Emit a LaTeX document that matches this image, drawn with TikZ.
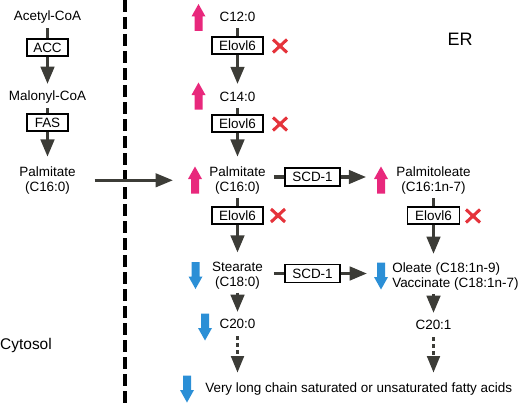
\documentclass[tikz,border=0pt]{standalone}
\usepackage{fontspec}
\setmainfont{Liberation Sans}
\usetikzlibrary{arrows.meta}
\definecolor{darkarr}{HTML}{3C3C37}
\definecolor{pinkc}{HTML}{E8287C}
\definecolor{bluec}{HTML}{2B8FD6}
\definecolor{redc}{HTML}{E5333B}
\tikzset{
  txt/.style={font=\fontsize{10.1}{11.25}\selectfont, inner xsep=2pt, inner ysep=3pt, text height=7.5pt, text depth=2.2pt},
  txtii/.style={font=\fontsize{10.1}{11.25}\selectfont, inner xsep=2pt, inner ysep=2.6pt, align=center},
  box/.style={draw=black, line width=0.9pt, fill=white, inner sep=0pt, minimum height=12.75pt, font=\fontsize{10.1}{12}\selectfont},
  conn/.style={draw=darkarr, line width=2.6pt},
  arr/.style={draw=darkarr, line width=2.6pt, -{Triangle[width=10pt,length=13pt]}},
  dasharr/.style={draw=darkarr, line width=2.2pt, dash pattern=on 3pt off 2.2pt, -{Triangle[width=9.5pt,length=12.5pt]}},
  divider/.style={draw=black, line width=3pt, dash pattern=on 9pt off 3.75pt},
  uparr/.pic={\fill[pinkc] (0,-13.5) -- (7,-1) -- (4,-1) -- (4,13.5) -- (-4,13.5) -- (-4,-1) -- (-7,-1) -- cycle;},
  dnarr/.pic={\fill[bluec] (0,13.5) -- (7,1) -- (4,1) -- (4,-13.5) -- (-4,-13.5) -- (-4,1) -- (-7,1) -- cycle;},
  xmark/.pic={\draw[redc, line width=2.3pt] (-7,-6.5) -- (7,6.5) (-7,6.5) -- (7,-6.5);}
}
\begin{document}
\begin{tikzpicture}[x=0.75pt,y=-0.75pt]
\useasboundingbox (0,0) rectangle (520,403);
% divider
\coordinate (dtop) at (125,0);
\coordinate (dbot) at (125,403);
\draw[divider] (dtop) -- (dbot);
% region labels
\node[font=\fontsize{13.5}{14}\selectfont, inner sep=0pt] (er) at (460,39.5) {ER};
\node[font=\fontsize{11.6}{13}\selectfont, inner sep=0pt] (cyto) at (26,345) {Cytosol};
% left column
\node[txt] (acetyl) at (47.5,17.4) {Acetyl-CoA};
\node[box, minimum width=41*0.75pt] (acc) at (47.5,47.5) {ACC};
\node[txt] (malonyl) at (47.5,97.4) {Malonyl-CoA};
\node[box, minimum width=41*0.75pt] (fas) at (47.5,122.5) {FAS};
\node[txtii] (palm0) at (47.5,180.3) {Palmitate\\(C16:0)};
% middle column
\node[txt] (c12) at (237.5,17.5) {C12:0};
\node[box, minimum width=51*0.75pt] (e1) at (237.5,45.5) {Elovl6};
\node[txt] (c14) at (237.5,97.5) {C14:0};
\node[box, minimum width=51*0.75pt] (e2) at (237.5,123.5) {Elovl6};
\node[txtii] (palm) at (237.5,180.3) {Palmitate\\(C16:0)};
\node[box, minimum width=51*0.75pt] (e3) at (237.5,215.5) {Elovl6};
\node[txtii] (stear) at (237.5,275.3) {Stearate\\(C18:0)};
\node[txt] (c200) at (237.5,325.4) {C20:0};
% SCD boxes
\node[box, minimum width=55*0.75pt, minimum height=13.5pt] (scd1) at (312.5,177) {SCD-1};
\node[box, minimum width=55*0.75pt, minimum height=13.5pt] (scd2) at (312.5,273.5) {SCD-1};
% right column
\node[txtii] (palmo) at (433.5,180.8) {Palmitoleate\\(C16:1n-7)};
\node[box, minimum width=52*0.75pt] (e4) at (433.5,215.5) {Elovl6};
\node[txtii, align=left, inner xsep=0pt, anchor=west] (oleate) at (392,276.8) {Oleate (C18:1n-9)\\Vaccinate (C18:1n-7)};
\node[txt] (c201) at (433.5,326.4) {C20:1};
\node[txt, anchor=west, inner xsep=0pt] (vlc) at (205,389.4) {Very long chain saturated or unsaturated fatty acids};
% markers
\pic at (198.5,17.5) {uparr};
\pic at (198.5,96) {uparr};
\pic at (195,180) {uparr};
\pic at (381,180) {uparr};
\pic at (195.5,275.5) {dnarr};
\pic at (205,327) {dnarr};
\pic at (381,276) {dnarr};
\pic at (187,389) {dnarr};
\pic at (280,46) {xmark};
\pic at (280,124) {xmark};
\pic at (278,215.5) {xmark};
\pic at (473,216) {xmark};
% connectors left
\draw[conn] (acetyl) -- (acc);
\draw[arr, shorten >=2pt] (acc) -- (malonyl);
\draw[conn] (malonyl) -- (fas);
\draw[arr, shorten >=4.5pt] (fas) -- (palm0);
\coordinate (hend) at (173,180.3);
\draw[arr, line width=2.3pt, shorten <=12pt] (palm0.east) -- (hend);
% connectors middle
\draw[conn] (c12) -- (e1);
\draw[arr, shorten >=2pt] (e1) -- (c14);
\draw[conn] (c14) -- (e2);
\draw[arr, shorten >=4.5pt] (e2) -- (palm);
\draw[conn] (palm) -- (e3);
\draw[arr, shorten >=4pt] (e3) -- (stear);
\draw[arr, shorten >=2pt] (stear) -- (c200);
\draw[dasharr, shorten >=4.5pt] (c200) -- (c200 |- vlc.north);
% SCD connectors
\draw[conn, shorten <=4pt] (scd1.west -| palm.east) -- (scd1.west);
\draw[arr, shorten >=20.5pt] (scd1.east) -- (scd1.east -| palmo.west);
\draw[conn, shorten <=6pt] (scd2.west -| stear.east) -- (scd2.west);
\draw[arr, shorten >=18.75pt] (scd2.east) -- (scd2.east -| oleate.west);
% connectors right
\draw[conn] (palmo) -- (e4);
\draw[arr, shorten >=4pt] (e4.south) -- (e4.south |- oleate.north);
\draw[arr, shorten >=2pt] (oleate.south -| c201) -- (c201);
\draw[dasharr, shorten >=4.5pt] (c201) -- (c201 |- vlc.north);
\end{tikzpicture}
\end{document}
